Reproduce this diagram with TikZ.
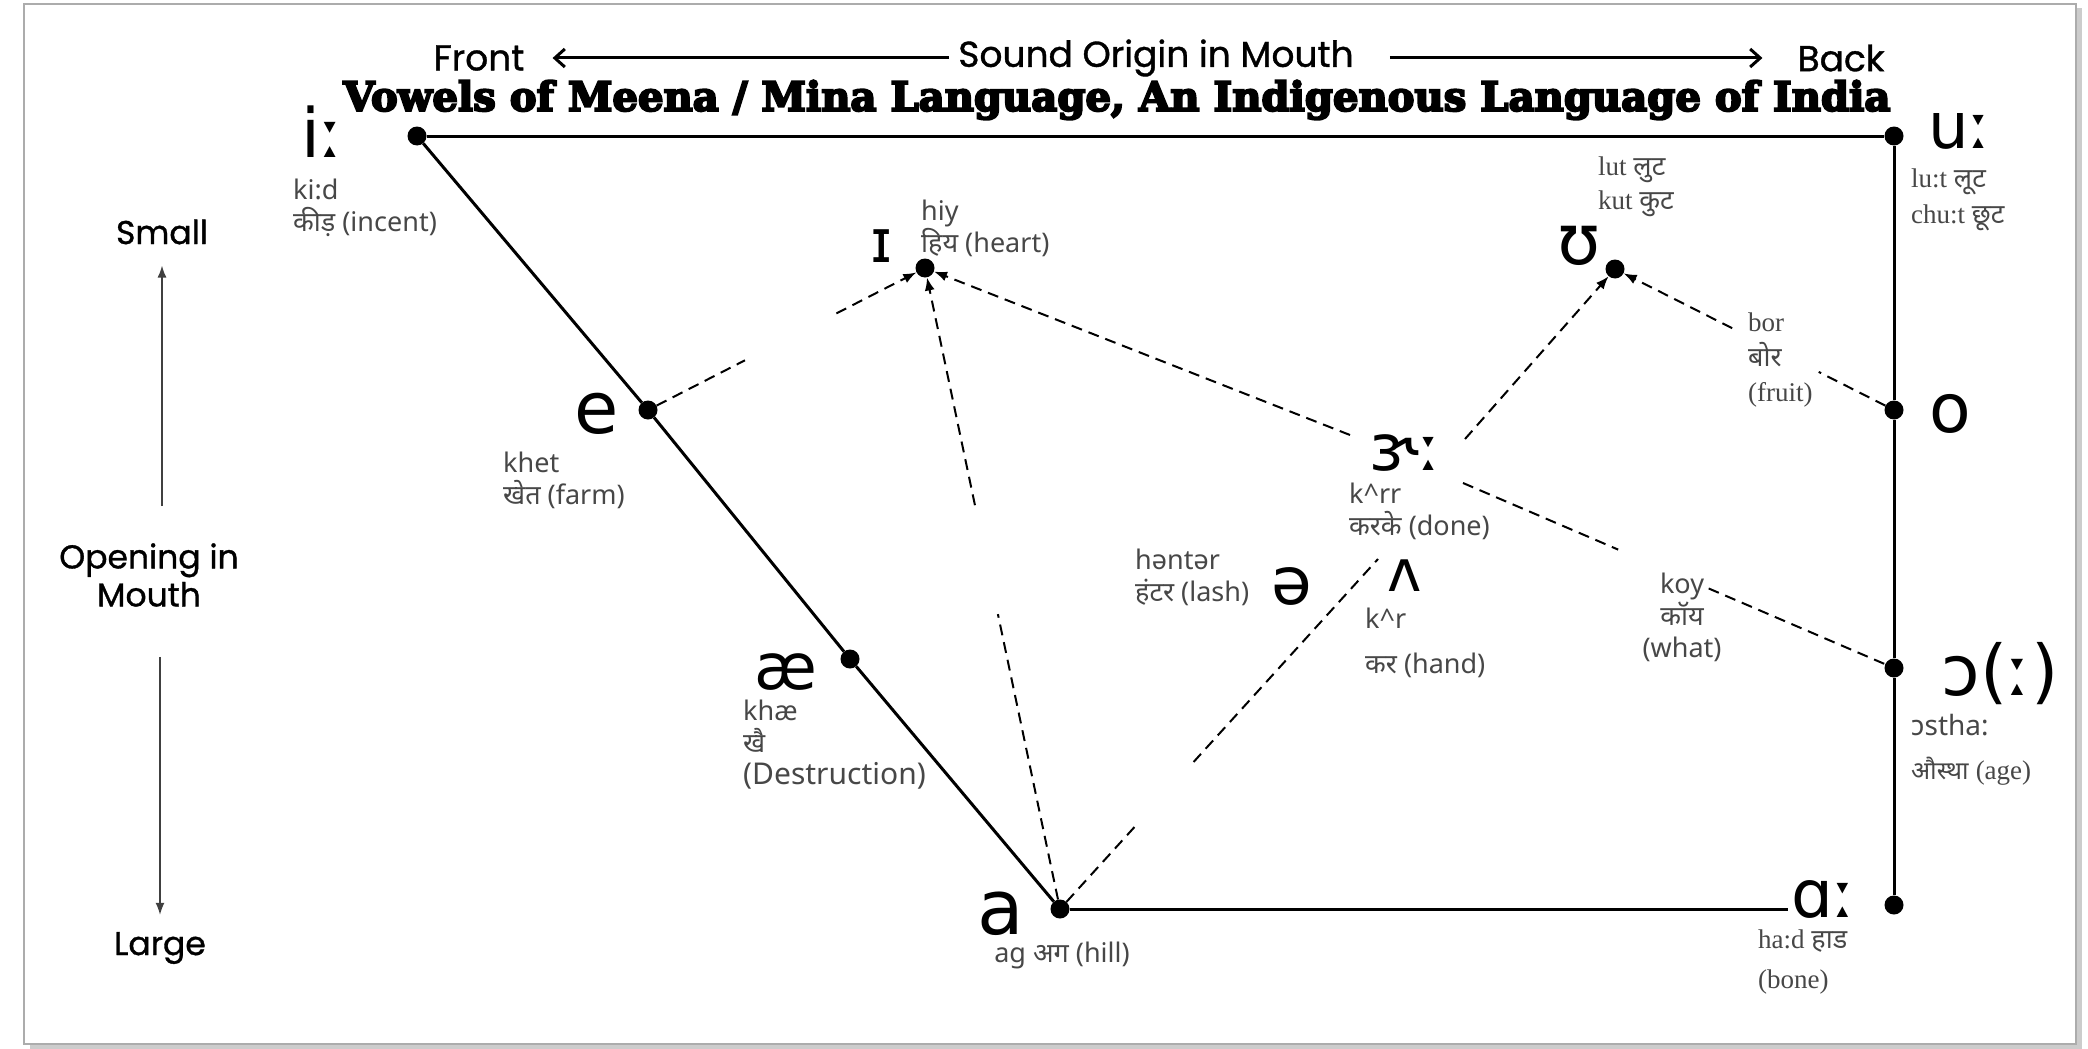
\documentclass[tikz,border=0pt]{standalone}
\usepackage{fontspec}
\usepackage{graphicx}
\usetikzlibrary{arrows.meta,calc}
\newfontfamily\devf[Script=Devanagari]{Noto Sans}
\newfontfamily\ipaf{DejaVu Sans}
\newfontfamily\comicf{Poppins}[FakeBold=1]
\newfontfamily\serf{Liberation Serif}
\newfontfamily\titlef{DejaVu Serif}[BoldFeatures={FakeBold=5}]
\begin{document}
\begin{tikzpicture}[x=1pt,y=-1pt,
  dot/.style={circle,fill=black,inner sep=0pt,minimum size=19pt},
  vow/.style={font=\ipaf\fontsize{68}{68}\selectfont,inner sep=0pt},
  lab/.style={font=\devf\fontsize{27}{32}\selectfont,text=black!72,align=left,anchor=north west,inner sep=0pt},
  slab/.style={font=\serf\fontsize{27}{36}\selectfont,text=black!72,align=left,anchor=north west,inner sep=0pt},
  side/.style={font=\comicf\fontsize{33}{38}\selectfont,align=center,inner sep=0pt},
  head/.style={font=\comicf\fontsize{36}{38}\selectfont,inner sep=0pt},
  solidl/.style={line width=3pt},
  dsh/.style={line width=2pt,dash pattern=on 11pt off 7pt},
  arr/.style={-{Latex[length=13pt,width=10pt]}},
  garr/.style={line width=1.5pt,black!75,-{Latex[length=12pt,width=9pt]}},
  tarr/.style={line width=3pt,-{Straight Barb[length=10pt,width=18pt,line width=3pt]}}
]
\useasboundingbox (0,0) rectangle (2088,1049);
\fill[white] (0,0) rectangle (2088,1049);
% frame
\draw[gray!40,line width=5pt] (30,1047) -- (2079,1047) -- (2079,8);
\draw[gray!65,line width=2.5pt] (24,4) rectangle (2076,1044);

% header
\node[head] (front) at (479,58) {Front};
\node[head] (sound) at (1156,58) {Sound Origin in Mouth};
\node[head] (back) at (1841,58) {Back};
\draw[tarr] ([xshift=-9pt]sound.west |- front.east) -- ([xshift=28pt]front.east);
\draw[tarr] ([xshift=36pt]sound.east |- back.west) -- ([xshift=-35pt]back.west);
\node[inner sep=0pt] (title) at (1117,100) {\resizebox{1547pt}{!}{\titlef\bfseries Vowels of Meena / Mina Language, An Indigenous Language of India}};

% left axis
\node[side] (small) at (162,232) {Small};
\node[side] (open) at (149,575) {Opening in\\Mouth};
\node[side] (large) at (160,948) {Large};
\draw[garr] ([yshift=37pt]open.north -| small.south) -- ([yshift=-21pt]small.south);
\draw[garr] ([yshift=-50pt]open.south -| large.north) -- ([yshift=17pt]large.north);

% dots
\node[dot] (pi) at (417,136) {};
\node[dot] (pu) at (1894,136) {};
\node[dot] (pe) at (648,410) {};
\node[dot] (pae) at (850,659) {};
\node[dot] (pa) at (1060,909) {};
\node[dot] (po) at (1894,410) {};
\node[dot] (poo) at (1894,668) {};
\node[dot] (paa) at (1894,905) {};
\node[dot] (pI) at (925,268) {};
\node[dot] (pU) at (1615,269) {};

% vowel symbols
\node[vow] (li) at (322,132) {iː};
\node[vow,font=\ipaf\fontsize{64}{64}\selectfont] (lu) at (1960,131) {uː};
\node[vow] (lo) at (1950,414) {o};
\node[vow,font=\ipaf\fontsize{70}{70}\selectfont] (loo) at (2000,674) {ɔ(ː)};
\node[vow,font=\ipaf\fontsize{66}{66}\selectfont] (laa) at (1824,899) {ɑː};
\node[vow,font=\ipaf\fontsize{76}{76}\selectfont] (la) at (1001,914) {a};
\node[vow,font=\ipaf\fontsize{72}{72}\selectfont] (le) at (597,414) {e};
\node[vow,font=\ipaf\fontsize{64}{64}\selectfont] (lae) at (786,672) {æ};
\node[vow,font=\ipaf\fontsize{60}{60}\selectfont] (lI) at (882,246) {ɪ};
\node[vow,font=\ipaf\fontsize{70}{70}\selectfont] (lU) at (1579,246) {ʊ};
\node[vow,font=\ipaf\fontsize{64}{64}\selectfont] (ler) at (1405,453) {ɝː};
\node[vow,font=\ipaf\fontsize{66}{66}\selectfont] (lschwa) at (1292,586) {ə};
\node[vow,font=\ipaf\fontsize{58}{58}\selectfont] (lwedge) at (1405,576) {ʌ};

% example words
\node[lab] (wi) at (293,179) {ki:d\\कीड़ (incent)};
\node[slab] (wu) at (1911,169) {lu:t {\devf लूट}\\chu:t {\devf छूट}};
\node[lab,font=\devf\fontsize{28}{44}\selectfont] (woo) at (1911,714) {ɔstha:\\{\devf\fontsize{25}{25}\selectfont औस्था} {\serf\fontsize{27}{27}\selectfont (age)}};
\node[slab,font=\serf\fontsize{27}{40}\selectfont] (waa) at (1758,930) {ha:d {\devf हाड}\\(bone)};
\node[lab,anchor=center] (wa) at (1062,955) {ag अग (hill)};
\node[lab] (we) at (503,452) {khet\\खेत (farm)};
\node[lab] (wae) at (743,700) {khæ\\खै\\{\fontsize{30}{31}\selectfont(Destruction)}};
\node[lab] (wI) at (921,200) {hiy\\हिय (heart)};
\node[slab,font=\serf\fontsize{27}{34}\selectfont] (wU) at (1598,157) {lut {\devf लुट}\\kut {\devf कुट}};
\node[lab] (wer) at (1349,483) {k\textasciicircum rr\\करके (done)};
\node[lab] (wschwa) at (1135,549) {həntər\\हंटर (lash)};
\node[lab,font=\devf\fontsize{27}{45}\selectfont] (wwedge) at (1365,608) {k\textasciicircum r\\कर (hand)};
\node[slab,font=\serf\fontsize{27}{35}\selectfont] (wo) at (1748,313) {bor\\{\devf बोर}\\(fruit)};
\node[lab,anchor=north,align=center] (woy) at (1682,573) {koy\\कॉय\\(what)};

% solid chart lines
\draw[solidl] (pi) -- (pu);
\draw[solidl] (pi) -- (pe) -- (pae) -- (pa);
\draw[solidl] (pu) -- (po) -- (poo) -- (paa);
\draw[solidl] (pa) -- ([xshift=-4pt]pa -| laa.west);

% dashed connections
\coordinate (er1) at (1350,435);
\coordinate (er2) at (1465,439);
\coordinate (er3) at (1463,483);
\coordinate (erb) at (1378,559);
\draw[dsh] (pe) -- ($(pe)!0.35!(pI)$);
\draw[dsh,arr] ($(pe)!0.68!(pI)$) -- (pI);
\draw[dsh] (pa) -- ($(pa)!0.46!(pI)$);
\draw[dsh,arr] ($(pa)!0.63!(pI)$) -- (pI);
\draw[dsh] (pa) -- ($(pa)!0.24!(erb)$);
\draw[dsh] ($(pa)!0.42!(erb)$) -- (erb);
\draw[dsh,arr] (er1) -- (pI);
\draw[dsh,arr] (er2) -- (pU);
\draw[dsh] (er3) -- ($(er3)!0.36!(poo)$);
\draw[dsh] ($(er3)!0.57!(poo)$) -- (poo);
\draw[dsh] (po) -- ($(po)!0.27!(pU)$);
\draw[dsh,arr] ($(po)!0.58!(pU)$) -- (pU);
\end{tikzpicture}
\end{document}
